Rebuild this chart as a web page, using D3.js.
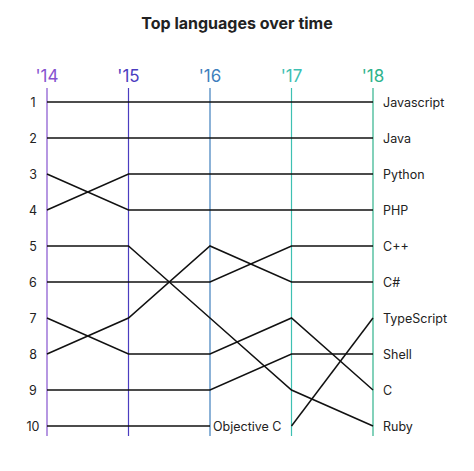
<!DOCTYPE html>
<html>
<head>
<meta charset="utf-8">
<script src="https://cdn.jsdelivr.net/npm/d3@7"></script>
<style>
body { margin: 0; background: #fff; font-family: Inter, "Noto Sans", sans-serif; }
</style>
</head>
<body>
<svg id="chart" width="474" height="471"></svg>
<script>
const W = 474, H = 471;

const years = ["'14", "'15", "'16", "'17", "'18"];
const yearColors = ['#8552cf', '#4b3dc0', '#3f7fbd', '#3ec0b2', '#2fb38c'];
const ranks = [1, 2, 3, 4, 5, 6, 7, 8, 9, 10];

const languages = ['Javascript', 'Java', 'Python', 'PHP', 'C++', 'C#', 'TypeScript', 'Shell', 'C', 'Ruby', 'Objective C'];
const rankJavascript = [1, 1, 1, 1, 1];
const rankJava = [2, 2, 2, 2, 2];
const rankPython = [4, 3, 3, 3, 3];
const rankPHP = [3, 4, 4, 4, 4];
const rankCpp = [6, 6, 6, 5, 5];
const rankCsharp = [8, 7, 5, 6, 6];
const rankTypeScript = [null, null, null, 10, 7];
const rankShell = [9, 9, 9, 8, 8];
const rankC = [7, 8, 8, 7, 9];
const rankRuby = [5, 5, 7, 9, 10];
const rankObjC = [10, 10, 10, null, null];

const series = [rankJavascript, rankJava, rankPython, rankPHP, rankCpp, rankCsharp,
  rankTypeScript, rankShell, rankC, rankRuby, rankObjC];

const svg = d3.select('#chart');

const x = d3.scalePoint().domain(years).range([47, 373]);
const y = d3.scaleLinear().domain([1, 10]).range([102, 426]);

svg.append('text')
  .attr('x', W / 2).attr('y', 29)
  .attr('text-anchor', 'middle')
  .attr('font-size', 16).attr('font-weight', 'bold')
  .attr('fill', '#222')
  .text('Top languages over time');

// year axes
years.forEach((yr, i) => {
  svg.append('line')
    .attr('x1', x(yr)).attr('x2', x(yr))
    .attr('y1', 88).attr('y2', 436)
    .attr('stroke', yearColors[i]).attr('stroke-width', 1.2);
  svg.append('text')
    .attr('x', x(yr)).attr('y', 82)
    .attr('text-anchor', 'middle')
    .attr('font-size', 17)
    .attr('fill', yearColors[i])
    .text(yr);
});

// rank labels
svg.selectAll('.rank')
  .data(ranks)
  .enter()
  .append('text')
  .attr('class', 'rank')
  .attr('x', 33).attr('y', d => y(d) + 4.5)
  .attr('text-anchor', 'middle')
  .attr('font-size', 12.5)
  .attr('fill', '#222')
  .text(d => d);

const line = d3.line()
  .defined(d => d.r != null)
  .x(d => x(d.yr))
  .y(d => y(d.r));

series.forEach((s, i) => {
  const pts = s.map((r, j) => ({ yr: years[j], r: r }));
  svg.append('path')
    .attr('d', line(pts))
    .attr('fill', 'none')
    .attr('stroke', '#111')
    .attr('stroke-width', 1.5);
  const last = pts.filter(p => p.r != null).pop();
  const inner = last.yr !== years[years.length - 1];
  svg.append('text')
    .attr('x', x(last.yr) + (inner ? 3 : 10)).attr('y', y(last.r) + 4.5)
    .attr('font-size', 12.5)
    .attr('fill', '#222')
    .text(languages[i]);
});
</script>
</body>
</html>
